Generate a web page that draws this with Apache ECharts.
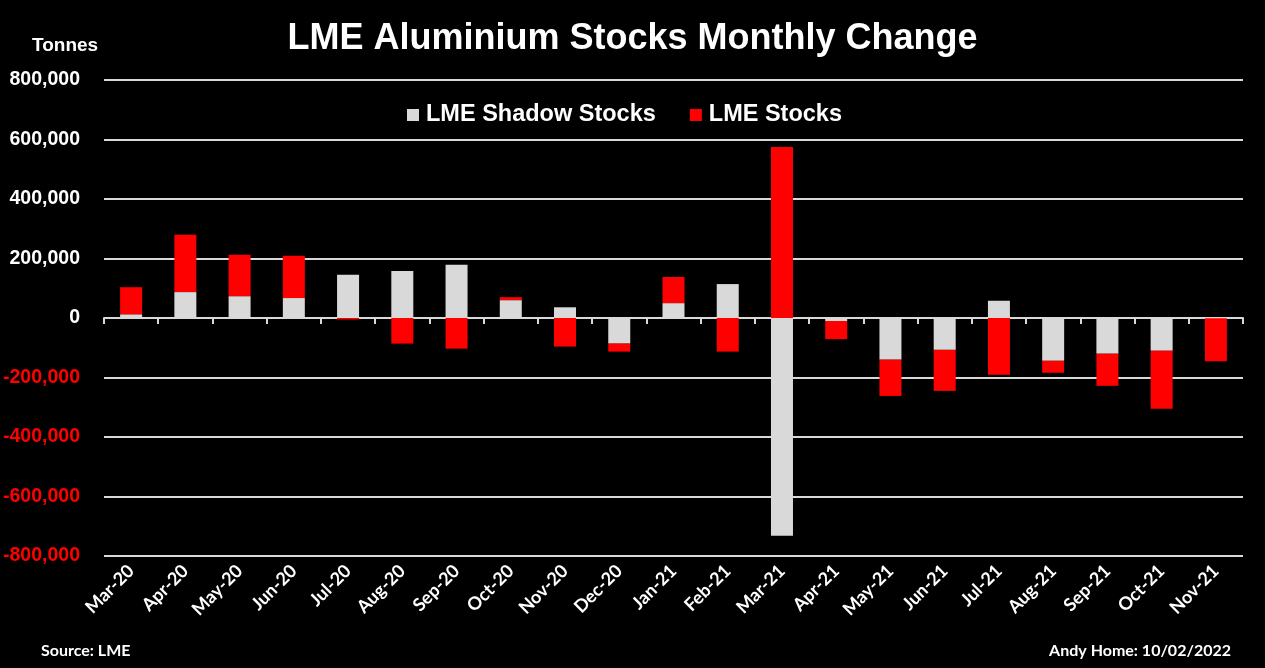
<!DOCTYPE html>
<html>
<head>
<meta charset="utf-8">
<script src="https://cdn.jsdelivr.net/npm/echarts@6/dist/echarts.min.js"></script>
<style>
html,body{margin:0;padding:0;background:#000;}
#main{width:1265px;height:668px;}
</style>
</head>
<body>
<div id="main"></div>
<script>
var categories = ['Mar-20','Apr-20','May-20','Jun-20','Jul-20','Aug-20','Sep-20','Oct-20','Nov-20','Dec-20','Jan-21','Feb-21','Mar-21','Apr-21','May-21','Jun-21','Jul-21','Aug-21','Sep-21','Oct-21','Nov-21'];
var shadowStocks = [12500, 87000, 73500, 67000, 145000, 158000, 179000, 60000, 36000, -86000, 50000, 114000, -732000, -10000, -140000, -107000, 58000, -144000, -120000, -110000, -1000];
var lmeStocks = [91000, 193000, 139000, 142000, -5000, -86000, -103000, 10000, -96000, -27000, 88000, -113000, 575000, -61000, -122000, -138000, -191000, -40000, -108000, -195000, -144000];
var yTicks = [-800000, -600000, -400000, -200000, 0, 200000, 400000, 600000, 800000];

var chart = echarts.init(document.getElementById('main'));
var armFont = 'Liberation Sans, Arial, sans-serif';
var calFont = 'Lato, Carlito, sans-serif';
chart.setOption({
  backgroundColor: '#000000',
  animation: false,
  title: [{
    text: 'LME Aluminium Stocks Monthly Change',
    left: 'center', top: 16,
    textStyle: {color: '#ffffff', fontFamily: armFont, fontWeight: 'bold', fontSize: 36}
  }, {
    text: 'Tonnes', left: 27, top: 31,
    textStyle: {color: '#ffffff', fontFamily: armFont, fontWeight: 'bold', fontSize: 19}
  }, {
    text: 'Source: LME', left: 36, top: 638,
    textStyle: {color: '#ffffff', fontFamily: calFont, fontWeight: 'bold', fontSize: 16}
  }, {
    text: 'Andy Home: 10/02/2022', right: 29, top: 638,
    textStyle: {color: '#ffffff', fontFamily: calFont, fontWeight: 'bold', fontSize: 16}
  }],
  legend: {
    top: 98, left: 402,
    icon: 'rect', itemWidth: 12, itemHeight: 12, itemGap: 34,
    textStyle: {color: '#ffffff', fontFamily: armFont, fontWeight: 'bold', fontSize: 23.5, padding: [0, 0, 0, 2]},
    data: ['LME Shadow Stocks', 'LME Stocks']
  },
  grid: {left: 104, right: 22, top: 80, bottom: 112, containLabel: false},
  xAxis: [{
    type: 'category', data: categories, position: 'bottom',
    axisLine: {show: false, onZero: false},
    axisTick: {show: false},
    axisLabel: {color: '#ffffff', rotate: 45, margin: 12, fontFamily: calFont, fontWeight: 'bold', fontSize: 18, interval: 0}
  }, {
    type: 'category', data: categories, position: 'top',
    axisLine: {show: true, onZero: true, lineStyle: {color: '#d9d9d9', width: 2}},
    axisTick: {show: true, inside: true, length: 6, lineStyle: {color: '#d9d9d9', width: 2}},
    axisLabel: {show: false}
  }],
  yAxis: {
    type: 'value', min: yTicks[0], max: yTicks[yTicks.length - 1], interval: 200000,
    axisLine: {show: false}, axisTick: {show: false},
    splitLine: {lineStyle: {color: '#d9d9d9', width: 2}},
    axisLabel: {
      margin: 24, fontFamily: armFont, fontWeight: 'bold', fontSize: 19.5,
      color: function (v) { return Number(v) < 0 ? '#ff0000' : '#ffffff'; },
      formatter: function (v) { return v.toLocaleString('en-US'); }
    }
  },
  series: [{
    name: 'LME Shadow Stocks', type: 'bar', stack: 'total', xAxisIndex: 0,
    barWidth: 22, itemStyle: {color: '#d9d9d9'}, data: shadowStocks
  }, {
    name: 'LME Stocks', type: 'bar', stack: 'total', xAxisIndex: 0,
    barWidth: 22, itemStyle: {color: '#ff0000'}, data: lmeStocks
  }]
});
</script>
</body>
</html>
